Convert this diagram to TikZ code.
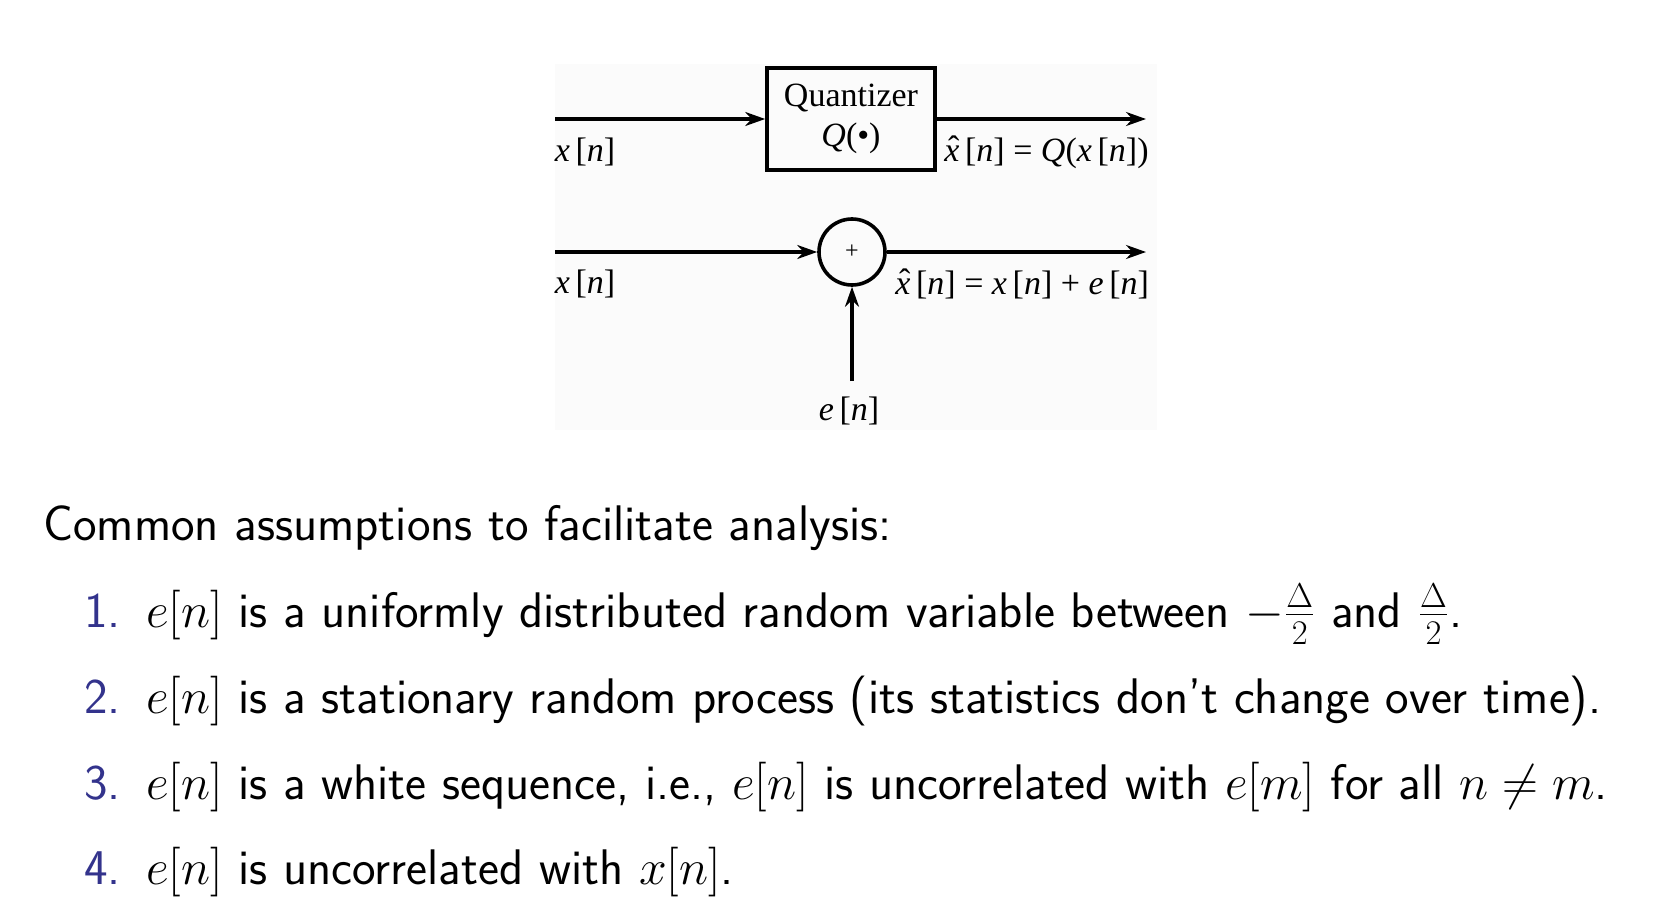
\documentclass[tikz,border=0pt]{standalone}
\usepackage{fontspec}
\newfontfamily\diag{Liberation Serif}
\usetikzlibrary{arrows.meta}
\definecolor{enumc}{RGB}{51,51,140}
\newcommand{\iv}[1]{\textit{#1}}
\newcommand{\xhat}{\textit{\makebox[0pt][l]{\kern1.8pt\raisebox{0.15ex}{\upshape\char"02C6}}x}}
\begin{document}
\begin{tikzpicture}[x=0.5pt,y=-0.5pt,
  sig/.style={line width=1.6pt,-{Stealth[length=10pt,width=7pt]}},
  dlab/.style={font=\diag\fontsize{17}{19}\selectfont,inner sep=0pt},
  item/.style={anchor=base west,inner sep=0pt,font=\sffamily\fontsize{25}{30}\selectfont}]
\useasboundingbox (0,0) rectangle (1676,920);
\fill[black!1.5] (555,64) rectangle (1157,430);
% top row
\node[draw,line width=1.8pt,minimum width=84pt,minimum height=51pt,inner sep=0pt,
  font=\diag\fontsize{17}{19}\selectfont,align=center] (q) at (851,119) {Quantizer\\[1pt]\iv{Q}(\textbullet)};
\coordinate (a1) at (555,119);
\coordinate (a2) at (1146,119);
\draw[sig] (a1) -- (q.west);
\draw[sig] (q.east) -- (a2);
\node[dlab] (l1) at (585,152) {\iv{x}\,[\iv{n}]};
\node[dlab,anchor=west] (l2) at (944,152) {\xhat\,[\iv{n}] = \iv{Q}(\iv{x}\,[\iv{n}])};
% second row
\node[draw,circle,line width=1.8pt,minimum size=33pt,inner sep=0pt,font=\diag\fontsize{12}{14}\selectfont] (s) at (852,252) {+};
\coordinate (b1) at (555,252);
\coordinate (b2) at (1146,252);
\coordinate (b3) at (852,381);
\draw[sig] (b1) -- (s.west);
\draw[sig] (s.east) -- (b2);
\draw[sig] (b3) -- (s.south);
\node[dlab] (l3) at (585,284) {\iv{x}\,[\iv{n}]};
\node[dlab,anchor=west] (l4) at (895,284) {\xhat\,[\iv{n}] = \iv{x}\,[\iv{n}] + \iv{e}\,[\iv{n}]};
\node[dlab] (l5) at (849,411) {\iv{e}\,[\iv{n}]};
% text
\node[item] (t0) at (43,540) {Common assumptions to facilitate analysis:};
\node[item,text=enumc] (n1) at (84,627) {1.};
\node[item] (t1) at (146,627) {$e[n]$ is a uniformly distributed random variable between $-\frac{\Delta}{2}$ and $\frac{\Delta}{2}$.};
\node[item,text=enumc] (n2) at (84,713) {2.};
\node[item] (t2) at (146,713) {$e[n]$ is a stationary random process (its statistics don't change over time).};
\node[item,text=enumc] (n3) at (84,799) {3.};
\node[item] (t3) at (146,799) {$e[n]$ is a white sequence, i.e., $e[n]$ is uncorrelated with $e[m]$ for all $n\neq m$.};
\node[item,text=enumc] (n4) at (84,884) {4.};
\node[item] (t4) at (146,884) {$e[n]$ is uncorrelated with $x[n]$.};
\end{tikzpicture}
\end{document}
